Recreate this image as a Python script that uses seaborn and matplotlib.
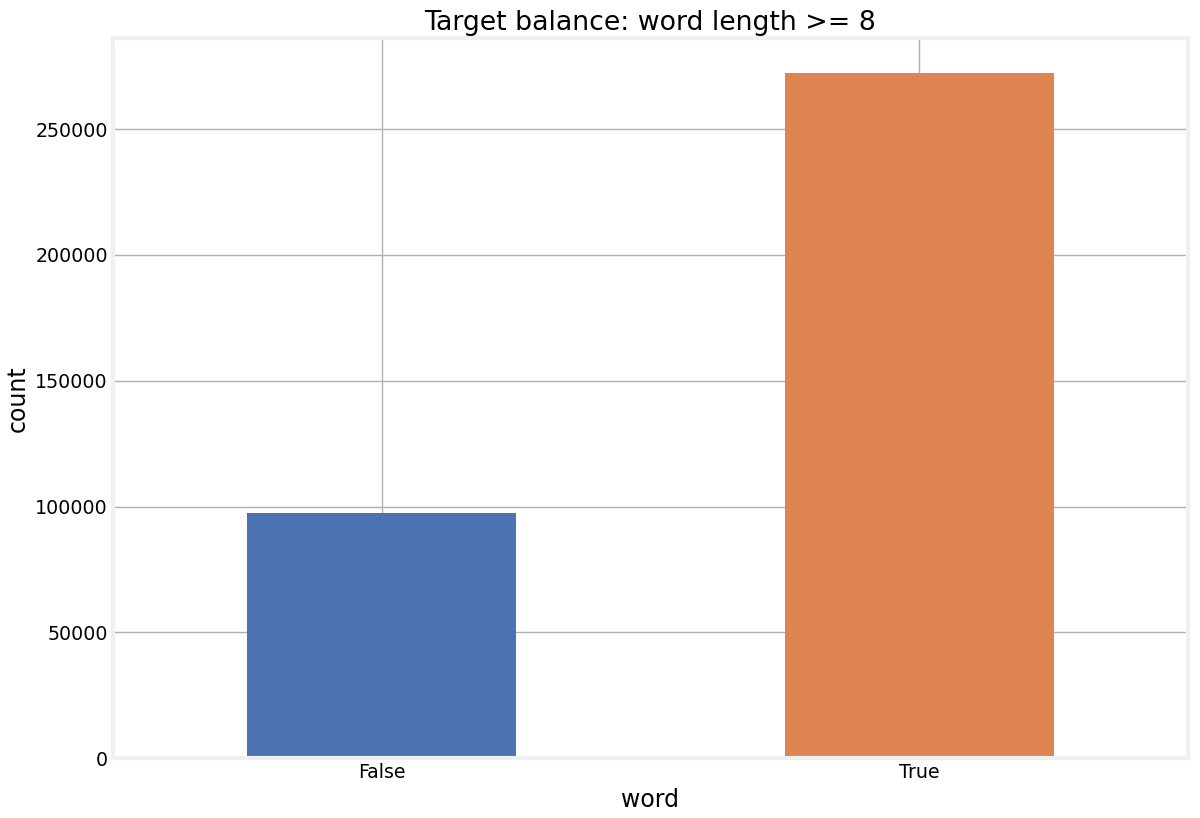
import matplotlib
matplotlib.use("Agg")
import matplotlib.pyplot as plt
import seaborn as sns
import pandas as pd

# target counts
labels = ["False", "True"]
counts = [97400, 272300]

plt.style.use("fivethirtyeight")
df = pd.DataFrame({"word": labels, "count": counts})

fig = plt.figure(figsize=(12, 8.18), dpi=100)
fig.patch.set_facecolor("white")
ax = fig.add_axes([0.094, 0.073, 0.896, 0.88])
ax.set_facecolor("white")
sns.barplot(data=df, x="word", y="count", hue="word", palette="deep",
            width=0.5, saturation=1, legend=False, ax=ax)
for s in ax.spines.values():
    s.set_visible(True)
    s.set_color("#f0f0f0")
    s.set_linewidth(3)
ax.grid(True, color="#b0b0b0", linewidth=1)
ax.set_axisbelow(True)
ax.set_xlim(-0.5, 1.5)
ax.set_ylim(0, 286000)
ax.tick_params(labelsize=13.7, length=0)
ax.set_xlabel("word", fontsize=17)
ax.set_ylabel("count", fontsize=17)
ax.set_title("Target balance: word length >= 8", fontsize=19.3)
fig.savefig("out.png", dpi=100, facecolor="white")
